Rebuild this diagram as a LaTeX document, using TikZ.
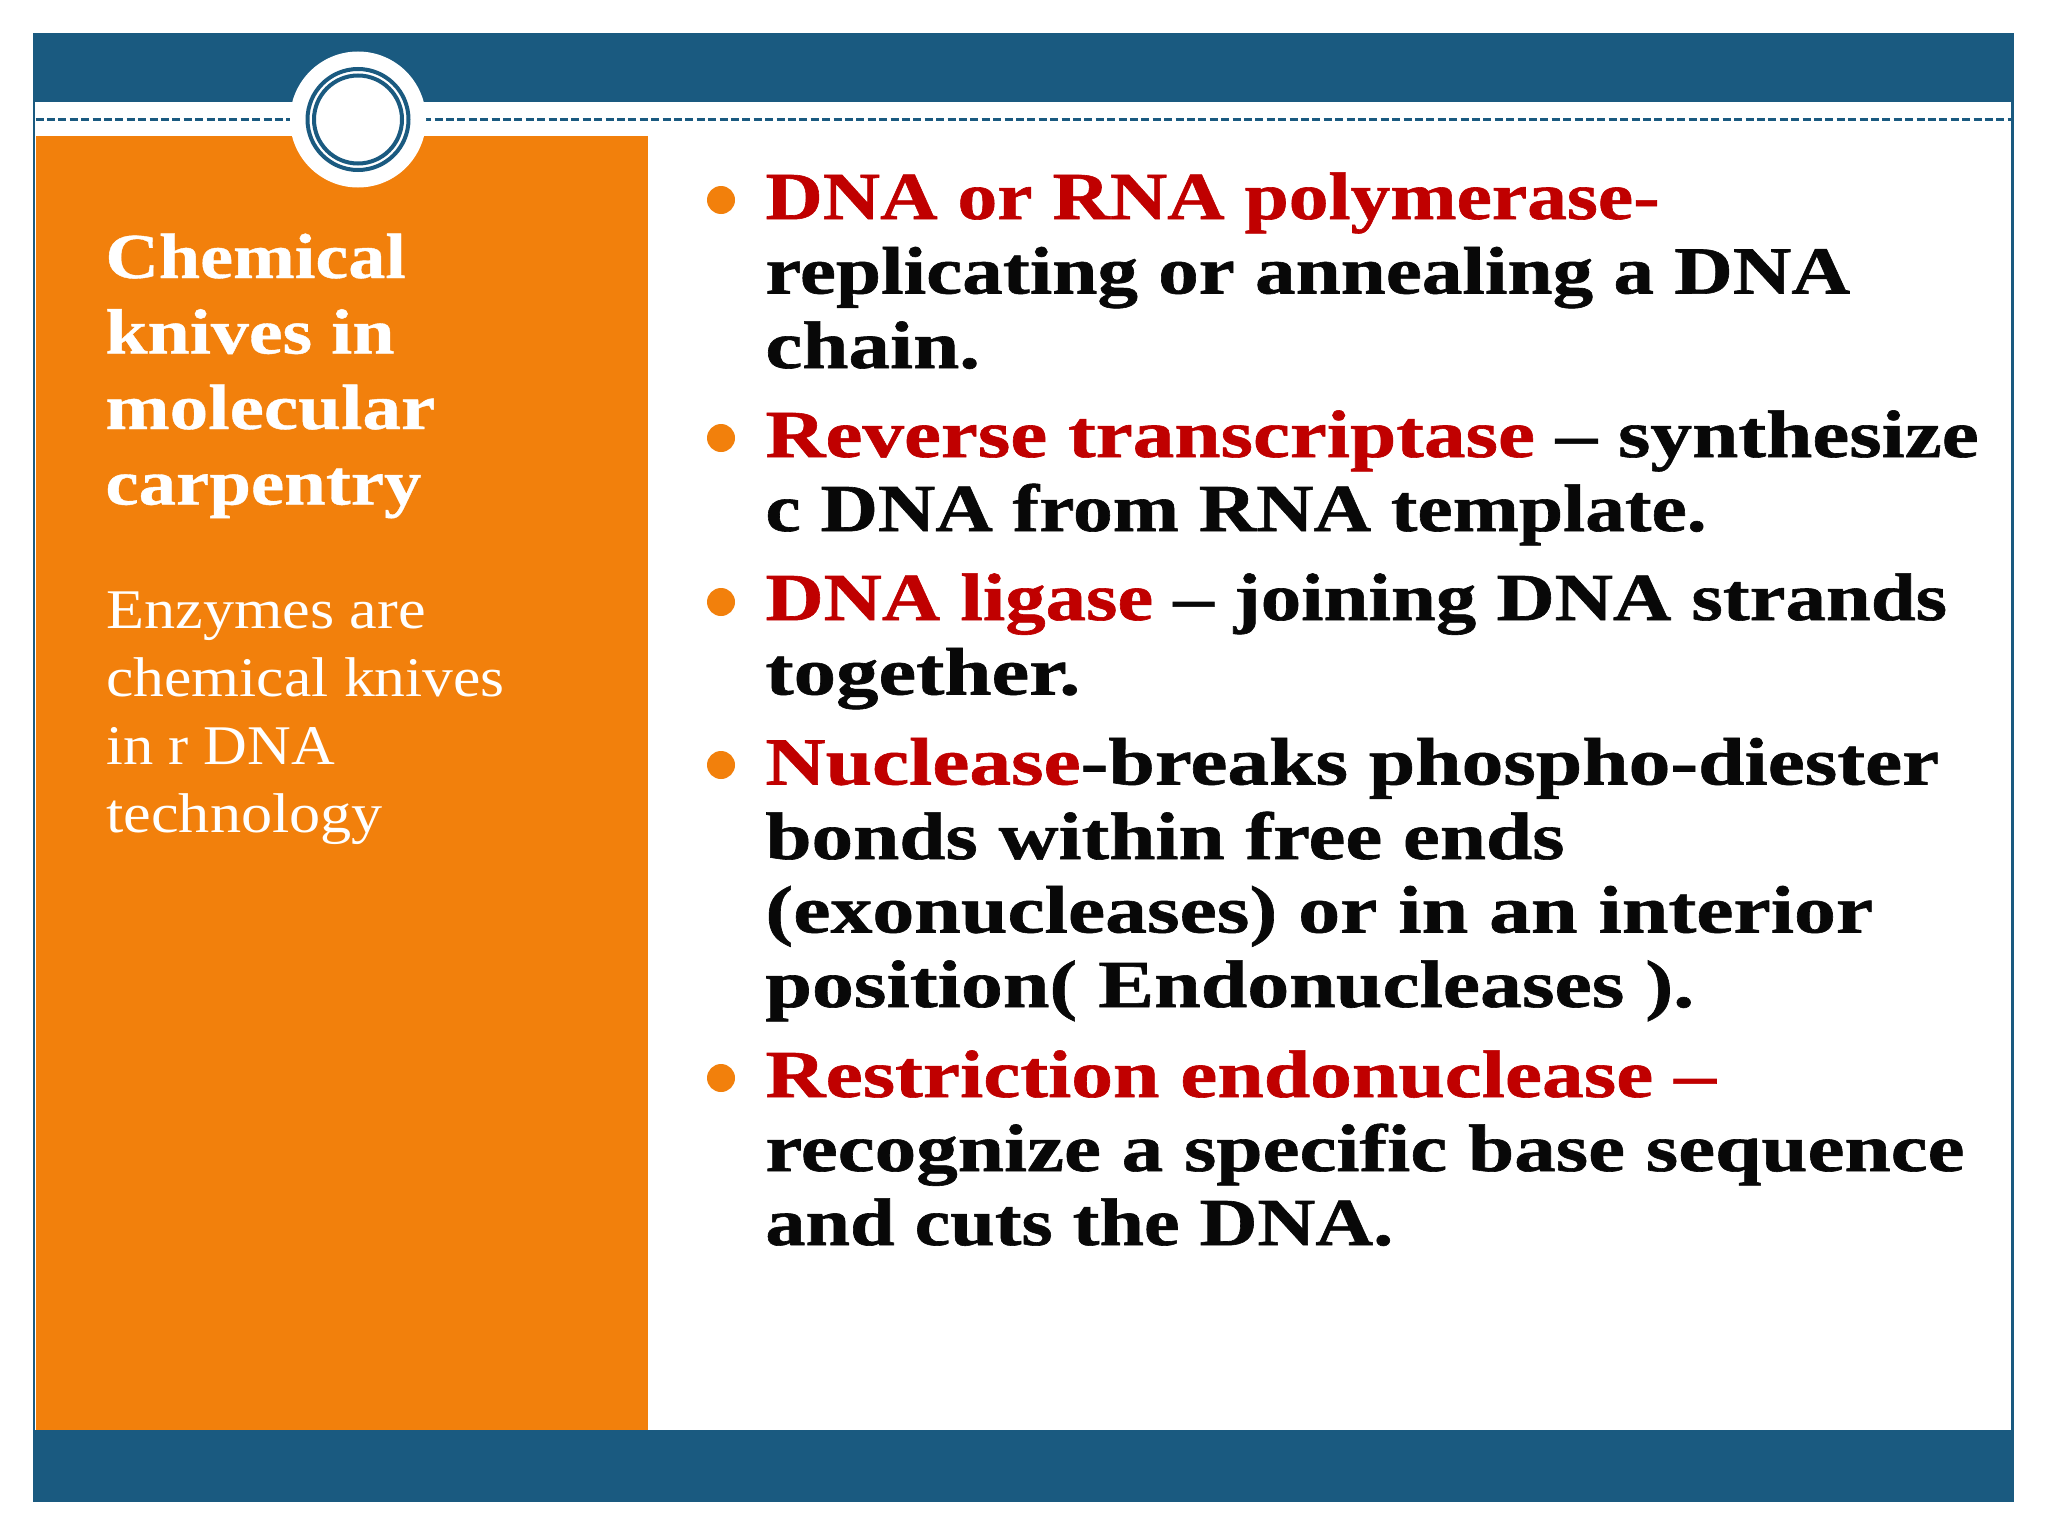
\documentclass[tikz,border=0pt]{standalone}
\usepackage{fontspec}
\setmainfont{Liberation Serif}
\newfontfamily\headfont[FakeStretch=1.2,FakeBold=0.9]{Liberation Serif Bold}
\newfontfamily\titlefont[FakeStretch=1.17,FakeBold=0.6]{Liberation Serif Bold}
\newfontfamily\bodyfont[FakeStretch=1.1]{Liberation Serif}
\definecolor{bandblue}{HTML}{1A5A80}
\definecolor{panelorange}{HTML}{F2800C}
\definecolor{termred}{HTML}{C00000}
\definecolor{inkblack}{HTML}{080808}
\tikzset{
  rightline/.style={anchor=base west,inner sep=0pt,text=inkblack,font=\headfont\fontsize{33.6}{36}\selectfont},
  titleline/.style={anchor=base west,inner sep=0pt,text=white,font=\titlefont\fontsize{32}{36}\selectfont},
  bodyline/.style={anchor=base west,inner sep=0pt,text=white,font=\bodyfont\fontsize{28}{32}\selectfont},
  bulletdot/.style={fill=panelorange,draw=none},
  band/.style={fill=bandblue,draw=none},
  rule/.style={bandblue,line width=1.3pt,dash pattern=on 4pt off 1.7pt},
  ring/.style={draw=bandblue,line width=2pt,fill=white}
}
\newcommand{\term}[1]{\textcolor{termred}{#1}}
\newcommand{\fitw}[2]{\scalebox{#1}[1]{#2}}
\begin{document}
\begin{tikzpicture}[x=0.5pt,y=-0.5pt]
\useasboundingbox[fill=white] (0,0) rectangle (2048,1536);
% frame
\draw[bandblue,line width=1.25pt] (34.2,60) -- (34.2,1470);
\draw[bandblue,line width=1.25pt] (2012.3,60) -- (2012.3,1470);
\fill[band] (33,33) rectangle (2014,102.5);
\fill[band] (33,1430) rectangle (2014,1502);
\fill[panelorange] (35.5,136) rectangle (648,1430);
% dashed rule
\coordinate (ruleLeft) at (35.5,119.5);
\coordinate (ruleRight) at (2011.5,119.5);
\draw[rule] (ruleLeft) -- (ruleRight);
% medallion
\fill[white] (358,119.5) circle [radius=68];
\draw[ring] (358,119.5) circle [radius=50.5];
\draw[ring] (358,119.5) circle [radius=44];
% left panel
\node[titleline] (t1) at (105,278) {\fitw{0.99}{Chemical}};
\node[titleline] (t2) at (105,353.5) {\fitw{1.014}{knives in}};
\node[titleline] (t3) at (105,429) {\fitw{1.03}{molecular}};
\node[titleline] (t4) at (105,504.5) {carpentry};
\node[bodyline] (b1) at (106,628) {\fitw{1.01}{Enzymes are}};
\node[bodyline] (b2) at (106,696) {chemical knives};
\node[bodyline] (b3) at (106,764) {\fitw{0.983}{in r DNA}};
\node[bodyline] (b4) at (106,832) {\fitw{1.01}{technology}};
% bullets
\foreach \y in {200,438,602,765,1078} \fill[bulletdot] (721,\y) circle [radius=14];
% right text
\node[rightline] (r1) at (765,219) {\fitw{0.986}{\term{DNA or RNA polymerase-}}};
\node[rightline] (r2) at (765,293.5) {\fitw{1.006}{replicating or annealing a DNA}};
\node[rightline] (r3) at (765,368) {\fitw{1.03}{chain.}};
\node[rightline] (r4) at (765,457) {\fitw{1.032}{\term{Reverse transcriptase} – synthesize}};
\node[rightline] (r5) at (765,531) {\fitw{0.986}{c DNA from RNA template.}};
\node[rightline] (r6) at (765,620) {\fitw{1.001}{\term{DNA ligase} – joining DNA strands}};
\node[rightline] (r7) at (765,694.5) {\fitw{1.052}{together.}};
\node[rightline] (r8) at (765,784.5) {\fitw{1.035}{\term{Nuclease}-breaks phospho-diester}};
\node[rightline] (r9) at (765,859) {\fitw{1.03}{bonds within free ends}};
\node[rightline] (r10) at (765,932.5) {\fitw{1.039}{(exonucleases) or in an interior}};
\node[rightline] (r11) at (765,1007) {\fitw{1.039}{position( Endonucleases ).}};
\node[rightline] (r12) at (765,1097) {\fitw{1.035}{\term{Restriction endonuclease –}}};
\node[rightline] (r13) at (765,1171) {\fitw{1.031}{recognize a specific base sequence}};
\node[rightline] (r14) at (765,1245) {\fitw{0.994}{and cuts the DNA.}};
\end{tikzpicture}
\end{document}
